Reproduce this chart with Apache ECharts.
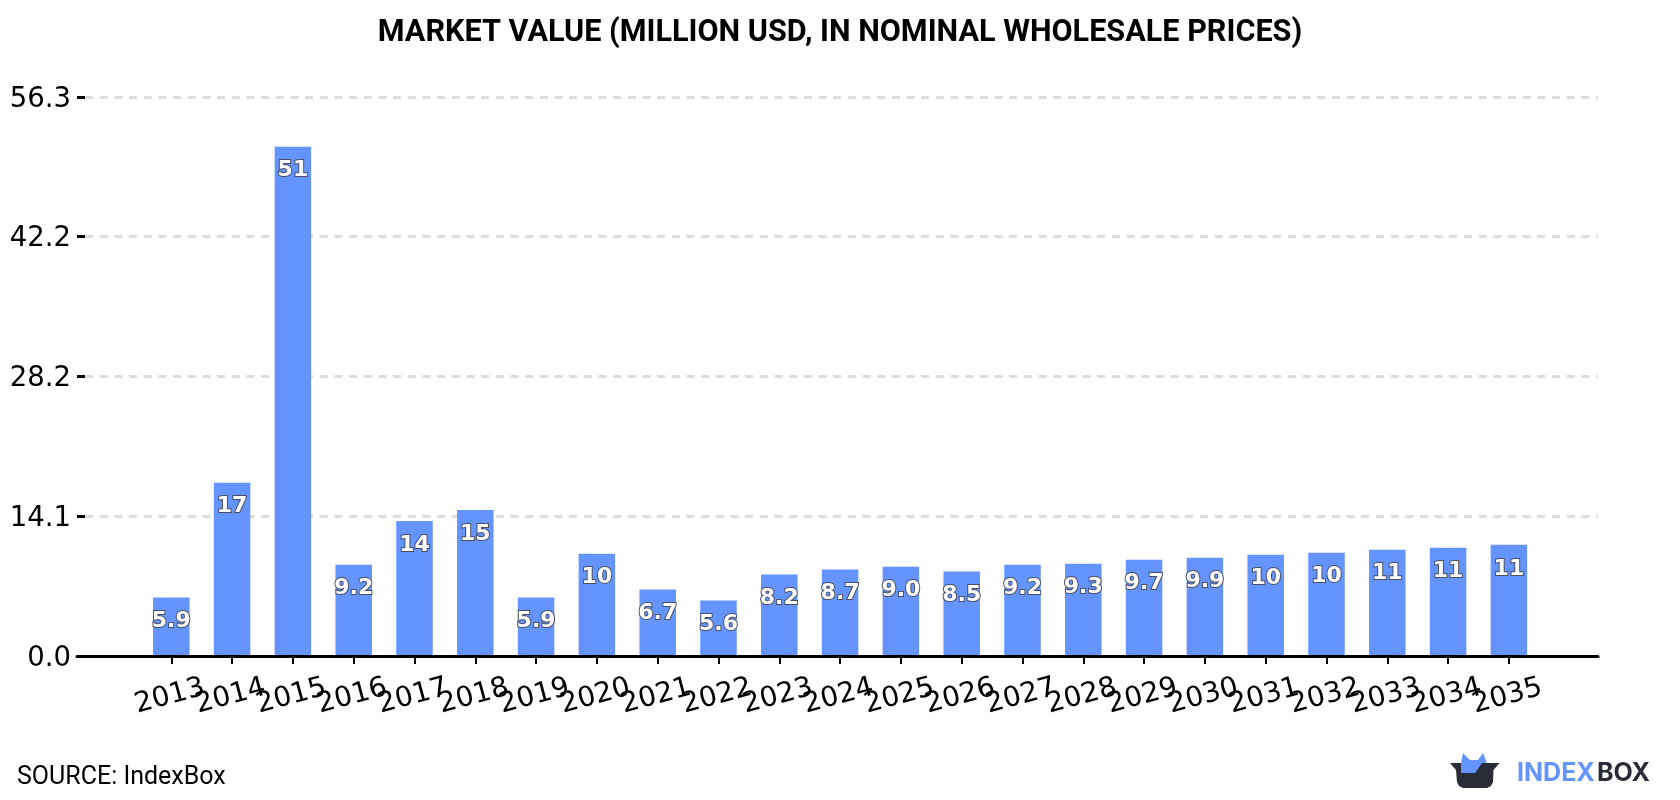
<!DOCTYPE html>
<html>
<head>
<meta charset="utf-8">
<title>Market value</title>
<script src="https://cdn.jsdelivr.net/npm/echarts@6/dist/echarts.min.js"></script>
<style>
  html, body { margin: 0; padding: 0; background: #fff; }
  #chart { width: 1680px; height: 800px; }
</style>
</head>
<body>
<div id="chart"></div>
<script>
// Market value by year, million USD
const years = ['2013', '2014', '2015', '2016', '2017', '2018', '2019', '2020', '2021', '2022', '2023', '2024',
               '2025', '2026', '2027', '2028', '2029', '2030', '2031', '2032', '2033', '2034', '2035'];
const marketValue = [5.9, 17.45, 51.3, 9.2, 13.6, 14.7, 5.9, 10.3, 6.7, 5.6, 8.2, 8.7,
                     9.0, 8.5, 9.2, 9.3, 9.7, 9.9, 10.2, 10.4, 10.7, 10.9, 11.2];
const yTickLabels = ['0.0', '14.1', '28.2', '42.2', '56.3'];
const yMax = 56.3;
const titleText = 'MARKET VALUE (MILLION USD, IN NOMINAL WHOLESALE PRICES)';
const sourceText = 'SOURCE: IndexBox';

const BLUE = '#6394ff';
const DARK = '#2a2c38';
const yStep = yMax / 4;

// Values of ten and above are shown as whole numbers, smaller ones with one decimal
function valueLabel(v) {
  return v >= 10 ? String(Math.round(v)) : v.toFixed(1);
}

const chart = echarts.init(document.getElementById('chart'), null, { renderer: 'canvas' });

chart.setOption({
  animation: false,
  backgroundColor: '#fff',
  title: {
    text: titleText,
    left: 'center',
    top: 13,
    textStyle: { fontFamily: 'Roboto', fontWeight: 700, fontSize: 30.6, color: '#000' }
  },
  // Outer grid carries the gridlines, value labels and long baseline;
  // the inset grid holds the bars so the baseline overshoots the first and last year.
  grid: [
    { left: 77, right: 82, top: 97, bottom: 144 },
    { left: 140.9, width: 1398.4, top: 97, bottom: 144 }
  ],
  xAxis: [
    {
      gridIndex: 0,
      type: 'value',
      min: 0,
      max: 1,
      z: 5,
      splitLine: { show: false },
      axisLabel: { show: false },
      axisTick: { show: false },
      axisLine: { show: true, onZero: false, lineStyle: { color: '#000', width: 3 } }
    },
    {
      gridIndex: 1,
      type: 'category',
      data: years,
      z: 5,
      axisLine: { show: false },
      axisTick: { show: true, alignWithLabel: true, length: 8, lineStyle: { color: '#000', width: 2 } },
      axisLabel: {
        interval: 0,
        rotate: 15,
        align: 'center',
        verticalAlign: 'middle',
        margin: 40,
        padding: [0, 3, 0, 0],
        fontFamily: 'DejaVu Sans',
        fontSize: 28,
        color: '#000',
        hideOverlap: false
      }
    }
  ],
  yAxis: [
    {
      gridIndex: 0,
      type: 'value',
      min: 0,
      max: yMax,
      interval: yStep,
      axisLine: { show: false },
      axisTick: { show: true, inside: true, length: 8, lineStyle: { color: '#000', width: 3 } },
      splitLine: { show: true, lineStyle: { color: '#dddddd', width: 3, type: [8, 6.67], dashOffset: 6.67 } },
      axisLabel: {
        formatter: v => '{v|' + yTickLabels[Math.round(v / yStep)] + '}',
        margin: 6,
        rich: {
          v: { padding: [5, 0, 0, 0], fontFamily: 'DejaVu Sans', fontSize: 27.5, color: '#000' }
        }
      }
    },
    {
      gridIndex: 1,
      type: 'value',
      min: 0,
      max: yMax,
      interval: yStep,
      show: false,
      splitLine: { show: false }
    }
  ],
  series: [{
    type: 'bar',
    xAxisIndex: 1,
    yAxisIndex: 1,
    data: marketValue,
    barWidth: 36.5,
    itemStyle: { color: BLUE },
    label: {
      show: true,
      position: 'insideTop',
      distance: 13,
      formatter: p => valueLabel(p.value),
      fontFamily: 'DejaVu Sans',
      fontWeight: 'bold',
      fontSize: 22,
      color: '#fff',
      textBorderColor: '#4a4f5e',
      textBorderWidth: 2
    }
  }],
  graphic: [
    {
      type: 'text',
      x: 17,
      y: 778,
      style: { text: sourceText, font: '400 25px Roboto', fill: '#000', textVerticalAlign: 'middle' }
    },
    {
      type: 'polygon',
      shape: { points: [[1450, 763], [1499.5, 763], [1493.5, 770], [1493, 782], [1491, 786], [1487, 788], [1463, 788], [1459, 786], [1457, 782], [1456, 770]] },
      style: { fill: DARK }
    },
    {
      type: 'polygon',
      shape: { points: [[1461, 773], [1461, 763], [1463, 753], [1470, 760], [1478, 760], [1483, 753], [1487, 763], [1482, 763], [1475, 773]] },
      style: { fill: BLUE }
    },
    {
      type: 'text',
      x: 1517,
      y: 773,
      style: { text: 'INDEX', font: '700 25px Inter', fill: BLUE, textVerticalAlign: 'middle' }
    },
    {
      type: 'text',
      x: 1597,
      y: 773,
      style: { text: 'BOX', font: '700 25px Inter', fill: DARK, textVerticalAlign: 'middle' }
    }
  ]
});
</script>
</body>
</html>
